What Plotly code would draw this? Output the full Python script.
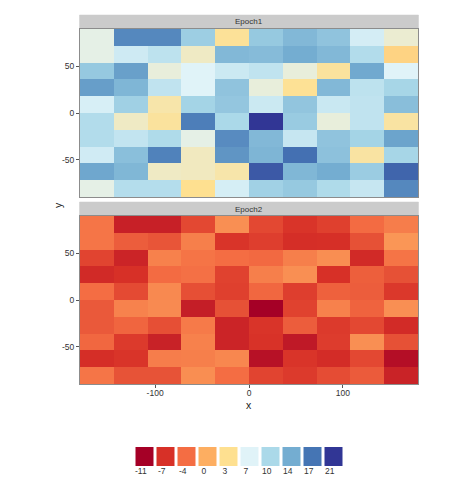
import plotly.graph_objects as go

W, H = 474, 502
x_centers = [-162, -126, -90, -54, -18, 18, 54, 90, 126, 162]
y_centers = [81, 63, 45, 27, 9, -9, -27, -45, -63, -81]

epoch1 = [
    [6.3, 16, 16, 11, 3.3, 11.5, 13, 12, 7.7, 5.5],
    [6.3, 8, 9, 5, 13, 12.7, 14, 13, 9.6, 2.2],
    [11.5, 14.7, 5.9, 7, 8.2, 8.8, 5.9, 3.5, 14.2, 7],
    [14.8, 13.2, 8.8, 7, 12, 5.9, 3.2, 13, 9, 10.3],
    [7.5, 10.8, 4, 10.5, 11.7, 8.2, 11.8, 8.3, 8.8, 12.5],
    [9.6, 5, 3.5, 16.5, 10, 21, 11.3, 5.9, 8.8, 3.7],
    [9.6, 8.7, 9.8, 6.3, 15.8, 13, 8.5, 12, 10.5, 14.5],
    [7.9, 12.4, 16.3, 4.8, 15.3, 13.3, 17.3, 12.2, 3.7, 10.3],
    [14.3, 13.1, 5, 4.8, 4, 18.8, 13.1, 14, 11.2, 18],
    [6.3, 9.5, 9.5, 3, 7.6, 10.7, 11.5, 9.8, 8.5, 16],
]
epoch2 = [
    [-3.5, -8.3, -8.3, -5.8, -1.9, -5.8, -6.8, -6.2, -4.1, -3],
    [-3.5, -4.8, -5.2, -2.9, -6.8, -6.3, -7.2, -7.1, -5.4, -1.5],
    [-6, -8, -2.8, -3.6, -4, -4.2, -2.9, -2, -7.5, -3.6],
    [-7.5, -7, -4.1, -3.8, -6.1, -2.9, -1.9, -7, -4.7, -5.4],
    [-4, -5.7, -2.3, -5.5, -6.2, -4.3, -6.3, -4.6, -4.8, -6.6],
    [-5, -2.7, -2.2, -8.5, -5.4, -11, -6.1, -2.8, -4.5, -1.9],
    [-5, -4.4, -5.5, -3.2, -8, -6.8, -4.8, -6.5, -5.8, -7.4],
    [-4.3, -6.5, -8.2, -2.8, -8, -6.9, -8.9, -6.4, -1.9, -5.4],
    [-7.2, -6.8, -3, -2.9, -2.4, -9.6, -6.8, -7.3, -5.8, -9.8],
    [-3.5, -5.3, -5.3, -2, -4, -6, -6.5, -5.6, -4.9, -8.1],
]
legend_values = [-11, -7, -4, 0, 3, 7, 10, 14, 17, 21]
legend_colors = ["#a50026", "#d73027", "#f46d43", "#fdae61", "#fee090",
                 "#e0f3f8", "#abd9e9", "#74add1", "#4575b4", "#313695"]
legend_labels = [str(v) for v in legend_values]

zmin, zmax = -11, 21
scale = [[(v - zmin) / (zmax - zmin), c] for v, c in zip(legend_values, legend_colors)]
FONT = "Liberation Sans, Arial, sans-serif"
TICK = dict(family=FONT, size=8.5, color="#333333")
BORDER = "#8c8c8c"

def py(p):
    return 1 - p / H

def px(p):
    return p / W

fig = go.Figure()
for z, xa, ya in [(epoch1, "x", "y"), (epoch2, "x2", "y2")]:
    fig.add_trace(go.Heatmap(x=x_centers, y=y_centers, z=z, xaxis=xa, yaxis=ya,
                             colorscale=scale, zmin=zmin, zmax=zmax, showscale=False))
fig.add_trace(go.Heatmap(x=list(range(10)), y=[0], z=[legend_values], xaxis="x3", yaxis="y3",
                         colorscale=scale, zmin=zmin, zmax=zmax, showscale=False, xgap=3))

panel_x = dict(range=[-180, 180], domain=[px(80), px(418)], showgrid=False, zeroline=False,
               mirror=True, showline=True, linecolor=BORDER, linewidth=1)
panel_y = dict(range=[-90, 90], showgrid=False, zeroline=False, mirror=True, showline=True,
               linecolor=BORDER, linewidth=1, tickvals=[-50, 0, 50], ticktext=["-50", "0", "50"],
               ticks="outside", ticklen=3, tickcolor="#555555", tickfont=TICK)

fig.update_layout(
    width=W, height=H, margin=dict(l=0, r=0, t=0, b=0),
    paper_bgcolor="white", plot_bgcolor="white",
    xaxis=dict(panel_x, anchor="y", showticklabels=False, ticks=""),
    yaxis=dict(panel_y, anchor="x", domain=[py(197), py(29)]),
    xaxis2=dict(panel_x, anchor="y2", tickvals=[-100, 0, 100], ticktext=["-100", "0", "100"],
                ticks="outside", ticklen=3, tickcolor="#555555", tickfont=TICK,
                ticklabelstandoff=-2),
    yaxis2=dict(panel_y, anchor="x2", domain=[py(384), py(216)]),
    xaxis3=dict(domain=[px(134.5), px(344.5)], range=[-0.5, 9.5], anchor="y3", showgrid=False,
                zeroline=False, showline=False, ticks="",
                tickvals=[i - 0.2 for i in range(10)], ticktext=legend_labels,
                tickfont=dict(family=FONT, size=8.5, color="#333333"), ticklabelstandoff=-2),
    yaxis3=dict(domain=[py(466), py(447)], anchor="x3", showgrid=False, zeroline=False,
                showline=False, showticklabels=False, ticks=""),
    shapes=[
        dict(type="rect", xref="paper", yref="paper", x0=px(79.5), x1=px(418.5),
             y0=py(29), y1=py(15), fillcolor="#cbcbcb", line=dict(color="#cbcbcb", width=0.5), layer="below"),
        dict(type="rect", xref="paper", yref="paper", x0=px(79.5), x1=px(418.5),
             y0=py(216), y1=py(202), fillcolor="#cbcbcb", line=dict(color="#cbcbcb", width=0.5), layer="below"),
    ],
    annotations=[
        dict(text="Epoch1", xref="paper", yref="paper", x=px(249), y=py(22), showarrow=False,
             xanchor="center", yanchor="middle", font=dict(family=FONT, size=8, color="#333333")),
        dict(text="Epoch2", xref="paper", yref="paper", x=px(249), y=py(209), showarrow=False,
             xanchor="center", yanchor="middle", font=dict(family=FONT, size=8, color="#333333")),
        dict(text="y", xref="paper", yref="paper", x=px(58), y=py(205), showarrow=False, textangle=-90,
             xanchor="center", yanchor="middle", font=dict(family=FONT, size=10.5, color="#222222")),
        dict(text="x", xref="paper", yref="paper", x=px(249), y=py(405), showarrow=False,
             xanchor="center", yanchor="middle", font=dict(family=FONT, size=10.5, color="#222222")),
    ],
)
fig.write_html("out.html", config=dict(displayModeBar=False),
               post_script="document.body.style.margin='0';document.body.style.overflow='hidden';")
